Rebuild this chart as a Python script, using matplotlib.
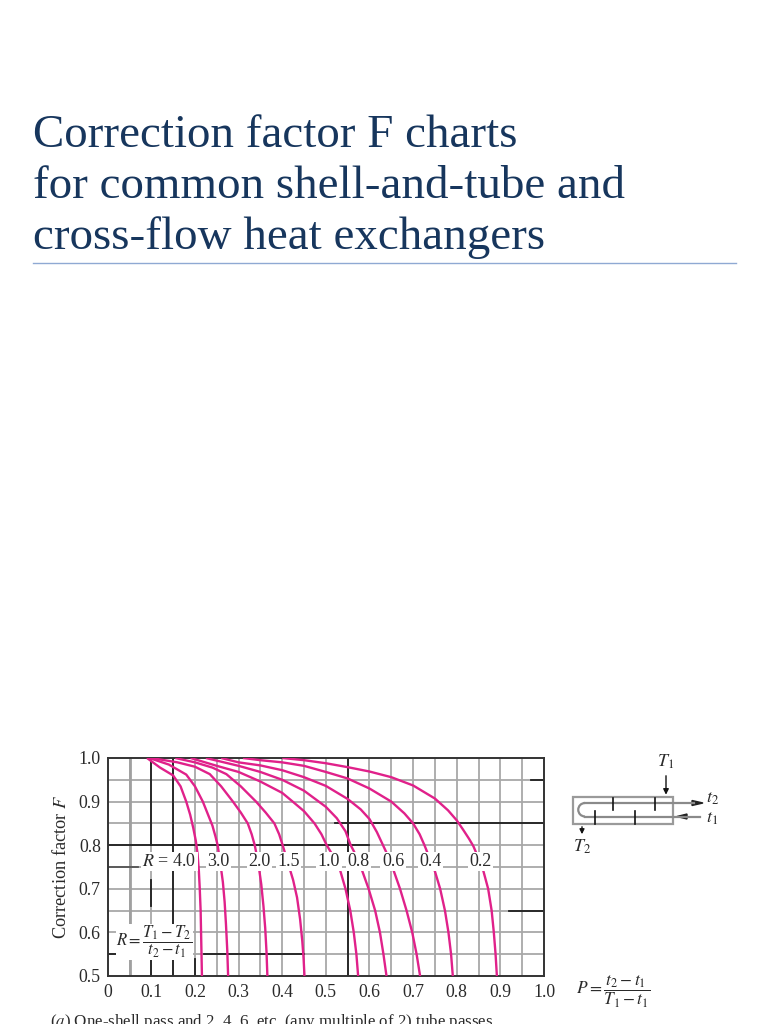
import matplotlib
matplotlib.use("Agg")
import matplotlib.pyplot as plt
from matplotlib.patches import Rectangle, Arc, FancyArrowPatch, Polygon

plt.rcParams['font.family'] = ['Liberation Serif', 'DejaVu Serif']
plt.rcParams['mathtext.fontset'] = 'stix'

# ---------------- data ----------------
R_values = ["4.0", "3.0", "2.0", "1.5", "1.0", "0.8", "0.6", "0.4", "0.2"]

P_R40 = [0.090, 0.120, 0.150, 0.167, 0.180, 0.189, 0.196, 0.202, 0.206, 0.209, 0.211, 0.213, 0.214, 0.215, 0.216]
F_R40 = [1.000, 0.978, 0.960, 0.935, 0.900, 0.870, 0.840, 0.810, 0.780, 0.740, 0.700, 0.650, 0.600, 0.550, 0.500]

P_R30 = [0.095, 0.140, 0.180, 0.200, 0.218, 0.230, 0.240, 0.247, 0.252, 0.258, 0.264, 0.268, 0.271, 0.274, 0.276]
F_R30 = [1.000, 0.985, 0.962, 0.935, 0.900, 0.870, 0.845, 0.820, 0.800, 0.760, 0.715, 0.670, 0.620, 0.560, 0.500]

P_R20 = [0.100, 0.160, 0.200, 0.234, 0.260, 0.287, 0.305, 0.321, 0.330, 0.337, 0.345, 0.352, 0.357, 0.361, 0.364, 0.366]
F_R20 = [1.000, 0.990, 0.980, 0.963, 0.935, 0.900, 0.875, 0.850, 0.825, 0.800, 0.760, 0.710, 0.660, 0.610, 0.555, 0.500]

P_R15 = [0.155, 0.200, 0.240, 0.272, 0.305, 0.340, 0.362, 0.382, 0.393, 0.401, 0.413, 0.425, 0.434, 0.441, 0.446, 0.449, 0.451]
F_R15 = [1.000, 0.990, 0.978, 0.963, 0.935, 0.900, 0.875, 0.850, 0.825, 0.800, 0.760, 0.720, 0.680, 0.630, 0.580, 0.540, 0.500]

P_R10 = [0.190, 0.250, 0.300, 0.350, 0.400, 0.424, 0.450, 0.474, 0.490, 0.502, 0.520, 0.532, 0.545, 0.556, 0.564, 0.570, 0.574]
F_R10 = [1.000, 0.982, 0.968, 0.946, 0.920, 0.900, 0.878, 0.850, 0.825, 0.800, 0.770, 0.745, 0.700, 0.650, 0.600, 0.550, 0.500]

P_R08 = [0.225, 0.300, 0.350, 0.400, 0.450, 0.500, 0.525, 0.545, 0.557, 0.570, 0.582, 0.598, 0.613, 0.624, 0.632, 0.639]
F_R08 = [1.000, 0.982, 0.968, 0.950, 0.925, 0.888, 0.862, 0.832, 0.800, 0.775, 0.745, 0.700, 0.650, 0.600, 0.550, 0.500]

P_R06 = [0.260, 0.300, 0.350, 0.400, 0.450, 0.500, 0.550, 0.580, 0.600, 0.617, 0.631, 0.645, 0.656, 0.670, 0.685, 0.698, 0.708, 0.716]
F_R06 = [1.000, 0.990, 0.983, 0.972, 0.956, 0.936, 0.906, 0.882, 0.860, 0.830, 0.800, 0.770, 0.740, 0.700, 0.650, 0.600, 0.550, 0.500]

P_R04 = [0.310, 0.350, 0.400, 0.450, 0.500, 0.550, 0.600, 0.650, 0.680, 0.700, 0.715, 0.726, 0.738, 0.750, 0.762, 0.773, 0.781, 0.787, 0.791]
F_R04 = [1.000, 0.995, 0.990, 0.982, 0.968, 0.953, 0.930, 0.900, 0.873, 0.850, 0.825, 0.800, 0.770, 0.740, 0.700, 0.650, 0.600, 0.550, 0.500]

P_R02 = [0.400, 0.450, 0.500, 0.550, 0.600, 0.650, 0.700, 0.750, 0.780, 0.800, 0.815, 0.828, 0.838, 0.850, 0.861, 0.872, 0.880, 0.885, 0.889, 0.892]
F_R02 = [1.000, 0.995, 0.988, 0.979, 0.969, 0.956, 0.937, 0.907, 0.880, 0.857, 0.835, 0.815, 0.798, 0.770, 0.741, 0.700, 0.650, 0.600, 0.550, 0.500]

curves_P = [P_R40, P_R30, P_R20, P_R15, P_R10, P_R08, P_R06, P_R04, P_R02]
curves_F = [F_R40, F_R30, F_R20, F_R15, F_R10, F_R08, F_R06, F_R04, F_R02]

x_ticks = [0, 0.1, 0.2, 0.3, 0.4, 0.5, 0.6, 0.7, 0.8, 0.9, 1.0]
x_tick_labels = ["0", "0.1", "0.2", "0.3", "0.4", "0.5", "0.6", "0.7", "0.8", "0.9", "1.0"]
y_ticks = [0.5, 0.6, 0.7, 0.8, 0.9, 1.0]
y_tick_labels = ["0.5", "0.6", "0.7", "0.8", "0.9", "1.0"]

title_lines = ["Correction factor F charts",
               "for common shell-and-tube and",
               "cross-flow heat exchangers"]

# ---------------- figure ----------------
W, H = 768, 1024
fig = plt.figure(figsize=(W / 100, H / 100), dpi=100)
fig.patch.set_facecolor('white')

# overlay in pixel coordinates (title, rule, schematic, caption)
ov = fig.add_axes([0, 0, 1, 1], zorder=0)
ov.set_xlim(0, W)
ov.set_ylim(H, 0)
ov.axis('off')

title_color = '#17365D'
baselines = [147, 198, 249]
for line, yb in zip(title_lines, baselines):
    ov.text(33, yb, line, fontsize=33.8, color=title_color, ha='left', va='baseline',
            family='Liberation Serif')
ov.plot([33, 736], [262.5, 262.5], color='#8FA9D3', lw=1.0)

# ---------------- main chart ----------------
ax_left, ax_right = 107.7, 544.0
ax_top, ax_bot = 758.0, 976.0
ax = fig.add_axes([ax_left / W, 1 - ax_bot / H, (ax_right - ax_left) / W, (ax_bot - ax_top) / H],
                  zorder=2)
ax.set_xlim(0, 1.0)
ax.set_ylim(0.5, 1.0)

grid_c = '#a8a8a8'
minor_x = [i * 0.05 for i in range(1, 20)]
minor_y = [0.5 + i * 0.05 for i in range(1, 10)]
for xv in minor_x:
    ax.axvline(xv, color=grid_c, lw=1.3, zorder=1)
for yv in minor_y:
    ax.axhline(yv, color=grid_c, lw=1.3, zorder=1)
ax.axvline(0.05, color='#a0a0a0', lw=2.0, zorder=1)

dark = '#1e1e1e'
# darker grid segments seen in the scan
seg = [([0.15, 0.15], [1.0, 0.6]), ([0.15, 0.15], [0.54, 0.5]),
       ([0.1, 0.1], [1.0, 0.8]), ([0.1, 0.1], [0.72, 0.66]), ([0.1, 0.1], [0.54, 0.5]),
       ([0.2, 0.2], [0.54, 0.5]),
       ([0.55, 0.55], [1.0, 0.5]), ([0.0, 0.6], [0.8, 0.8]), ([0.52, 1.0], [0.85, 0.85]),
       ([0.22, 0.45], [0.55, 0.55]), ([0.0, 0.02], [0.55, 0.55]), ([0.92, 1.0], [0.65, 0.65]),
       ([0.97, 1.0], [0.95, 0.95])]
for sx, sy in seg:
    ax.plot(sx, sy, color=dark, lw=1.3, zorder=1.5)
ax.plot([0.0, 0.07], [0.75, 0.75], color='#555555', lw=1.3, zorder=1.5)

curve_c = '#E0218A'
for Pc, Fc in zip(curves_P, curves_F):
    ax.plot(Pc, Fc, color=curve_c, lw=1.7, zorder=3, solid_capstyle='butt')

# R labels
label_y = 0.7625
label_x = [0.203, 0.253, 0.347, 0.415, 0.507, 0.575, 0.654, 0.740, 0.855]
box = dict(facecolor='white', edgecolor='none', pad=1.0)
for i, (lab, lx) in enumerate(zip(R_values, label_x)):
    if i == 0:
        ax.text(lx, label_y, r'$R$ = ' + lab, ha='right', va='center', fontsize=13,
                color='#2a2a2a', bbox=box, zorder=4)
    else:
        ax.text(lx, label_y, lab, ha='center', va='center', fontsize=13,
                color='#2a2a2a', bbox=box, zorder=4)

ax.text(0.107, 0.578, r'$R=\dfrac{T_1-T_2}{t_2-t_1}$', ha='center', va='center', fontsize=12,
        color='#2a2a2a', bbox=dict(facecolor='white', edgecolor='none', pad=0.3), zorder=4)

ax.set_xticks(x_ticks)
ax.set_xticklabels(x_tick_labels)
ax.set_yticks(y_ticks)
ax.set_yticklabels(y_tick_labels)
ax.tick_params(length=0, labelsize=12.8, labelcolor='#2a2a2a')
ax.tick_params(axis='x', pad=6)
ax.tick_params(axis='y', pad=5)
for sp in ax.spines.values():
    sp.set_color('#333333')
    sp.set_linewidth(1.4)
ax.set_ylabel(r'Correction factor $F$', fontsize=13.2, color='#2a2a2a', labelpad=6)

# P definition
ov.text(576, 992, r'$P=\dfrac{t_2-t_1}{T_1-t_1}$', fontsize=12.5, color='#2a2a2a',
        ha='left', va='center')

# caption (cut at bottom edge, as in the source)
ov.text(50, 1026, r'($a$) One-shell pass and 2, 4, 6, etc. (any multiple of 2) tube passes',
        fontsize=12.2, color='#2a2a2a', ha='left', va='baseline')

# ---------------- schematic ----------------
ov.add_patch(Rectangle((573, 797), 100, 27, facecolor='white', edgecolor='#9a9a9a', lw=1.6))
ov.plot([585, 694], [803, 803], color='#8a8a8a', lw=1.6)
ov.plot([585, 700], [816.5, 816.5], color='#8a8a8a', lw=1.6)
ov.add_patch(Arc((585, 809.75), 13.5, 13.5, theta1=90, theta2=270, color='#8a8a8a', lw=1.6))
ov.add_patch(Polygon([[692, 800.5], [703, 803], [692, 805.5]], closed=True, color='#222222'))
ov.add_patch(Polygon([[687, 814], [677, 816.5], [687, 819]], closed=True, color='#222222'))
for bx in [613, 655]:
    ov.plot([bx, bx], [797.5, 809.5], color='#111111', lw=1.2)
for bx in [595, 635]:
    ov.plot([bx, bx], [811, 823.5], color='#111111', lw=1.2)
ov.add_patch(FancyArrowPatch((666, 773), (666, 797.5), arrowstyle='-|>', mutation_scale=8,
                             color='#111111', lw=1.0))
ov.add_patch(FancyArrowPatch((582, 824), (582, 837), arrowstyle='-|>', mutation_scale=7,
                             color='#111111', lw=1.0))
ov.text(666, 771, r'$T_1$', fontsize=13, ha='center', va='bottom', color='#2a2a2a')
ov.text(582, 838, r'$T_2$', fontsize=13, ha='center', va='top', color='#2a2a2a')
ov.text(706, 807, r'$t_2$', fontsize=13, ha='left', va='bottom', color='#2a2a2a')
ov.text(706, 810, r'$t_1$', fontsize=13, ha='left', va='top', color='#2a2a2a')

fig.savefig('out.png', dpi=100, facecolor='white')
